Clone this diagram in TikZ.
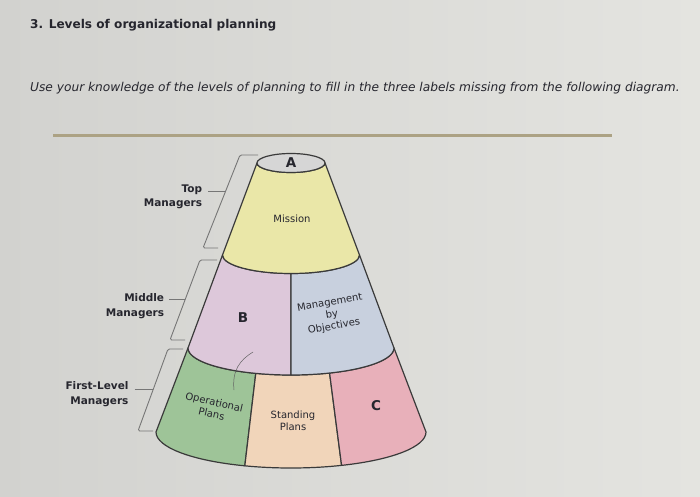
\documentclass[tikz,border=0pt]{standalone}
\usepackage{fontspec}
\setmainfont{DejaVu Sans}
\definecolor{bgleft}{RGB}{210, 210, 207}
\definecolor{bgright}{RGB}{228, 228, 224}
\definecolor{rulebar}{RGB}{172, 162, 132}
\definecolor{inkdark}{RGB}{38, 38, 46}
\definecolor{edgegray}{RGB}{58, 58, 58}
\definecolor{brkgray}{RGB}{118, 118, 118}
\definecolor{topgray}{RGB}{214, 214, 214}
\definecolor{missionyellow}{RGB}{234, 231, 168}
\definecolor{midlilac}{RGB}{221, 200, 218}
\definecolor{midblue}{RGB}{200, 208, 222}
\definecolor{lowgreen}{RGB}{158, 196, 152}
\definecolor{lowpeach}{RGB}{241, 213, 186}
\definecolor{lowpink}{RGB}{232, 176, 186}
\usetikzlibrary{calc, positioning}

\begin{document}
\begin{tikzpicture}[x=1pt, y=1pt,
  part/.style={draw=edgegray, line width=1.2pt, line join=round},
  brk/.style={draw=brkgray, line width=0.9pt, rounded corners=1.5pt},
  lvl/.style={font=\fontsize{10.5}{14.5}\selectfont\bfseries, text=inkdark, align=right, inner sep=1pt},
  ctxt/.style={font=\fontsize{10}{12}\selectfont, text=inkdark, align=center, inner sep=0pt},
  letter/.style={font=\fontsize{13.5}{14}\selectfont\bfseries, text=inkdark, inner sep=0pt}]
  \useasboundingbox (0,0) rectangle (700,496);
  \shade[left color=bgleft, right color=bgright] (0,0) rectangle (700,496);

  % Heading
  \node[anchor=west, font=\fontsize{12.1}{14}\selectfont\bfseries, text=inkdark, inner sep=0pt] (title) at (30,471) {3. Levels of organizational planning};
  \node[anchor=west, font=\fontsize{12.2}{14}\selectfont\itshape, text=inkdark, inner sep=0pt] (task) at (30,408) {Use your knowledge of the levels of planning to fill in the three labels missing from the following diagram.};
  \fill[rulebar] (53,358.5) rectangle (612,362);

  % Ellipse centres of the cone
  \coordinate (c0) at (291,333);
  \coordinate (c1) at (291,241);
  \coordinate (c2) at (291,148);
  \coordinate (c3) at (291,64);

  % First-level band
  \filldraw[part, fill=lowgreen] ($(c2)+(180:103 and 27)$) -- ($(c3)+(180:135 and 36)$)
    arc[start angle=180, end angle=250, x radius=135, y radius=36]
    -- ($(c2)+(250:103 and 27)$) arc[start angle=250, end angle=180, x radius=103, y radius=27] -- cycle;
  \filldraw[part, fill=lowpeach] ($(c2)+(250:103 and 27)$) -- ($(c3)+(250:135 and 36)$)
    arc[start angle=250, end angle=292, x radius=135, y radius=36]
    -- ($(c2)+(292:103 and 27)$) arc[start angle=292, end angle=250, x radius=103, y radius=27] -- cycle;
  \filldraw[part, fill=lowpink] ($(c2)+(292:103 and 27)$) -- ($(c3)+(292:135 and 36)$)
    arc[start angle=292, end angle=360, x radius=135, y radius=36]
    -- ($(c2)+(0:103 and 27)$) arc[start angle=360, end angle=292, x radius=103, y radius=27] -- cycle;

  % Middle band
  \filldraw[part, fill=midlilac] ($(c1)+(180:68.5 and 18.5)$) -- ($(c2)+(180:103 and 27)$)
    arc[start angle=180, end angle=270, x radius=103, y radius=27]
    -- ($(c1)+(270:68.5 and 18.5)$) arc[start angle=270, end angle=180, x radius=68.5, y radius=18.5] -- cycle;
  \filldraw[part, fill=midblue] ($(c1)+(270:68.5 and 18.5)$) -- ($(c2)+(270:103 and 27)$)
    arc[start angle=270, end angle=360, x radius=103, y radius=27]
    -- ($(c1)+(0:68.5 and 18.5)$) arc[start angle=360, end angle=270, x radius=68.5, y radius=18.5] -- cycle;

  % Top band
  \filldraw[part, fill=missionyellow] ($(c0)+(180:34 and 9.5)$) -- ($(c1)+(180:68.5 and 18.5)$)
    arc[start angle=180, end angle=360, x radius=68.5, y radius=18.5]
    -- ($(c0)+(0:34 and 9.5)$) arc[start angle=0, end angle=-180, x radius=34, y radius=9.5] -- cycle;
  \filldraw[part, fill=topgray] (c0) ellipse[x radius=34, y radius=9.5];

  % pen mark
  \draw[edgegray!80, line width=0.5pt] (253,144) .. controls (240,136) and (232,126) .. (234,106);

  % Cone texts
  \node[letter] (A) at (291,333) {A};
  \node[ctxt] (mission) at (292,277) {Mission};
  \node[letter] (B) at (243,178) {B};
  \node[ctxt, rotate=10] (mbo) at (332,181) {Management\\by\\Objectives};
  \node[ctxt, rotate=-13] (oper) at (213,88) {Operational\\Plans};
  \node[ctxt] (stand) at (293,75) {Standing\\Plans};
  \node[letter] (C) at (376,90) {C};

  % Level brackets
  \coordinate (bt1) at (258,341); \coordinate (bt2) at (240,341);
  \coordinate (bt3) at (203,248); \coordinate (bt4) at (218,248);
  \coordinate (bm1) at (217,236); \coordinate (bm2) at (200,236);
  \coordinate (bm3) at (170,156); \coordinate (bm4) at (185,156);
  \coordinate (bf1) at (183,147); \coordinate (bf2) at (168,147);
  \coordinate (bf3) at (138,65);  \coordinate (bf4) at (153,65);
  \draw[brk] (bt1) -- (bt2) -- (bt3) -- (bt4);
  \draw[brk] (bm1) -- (bm2) -- (bm3) -- (bm4);
  \draw[brk] (bf1) -- (bf2) -- (bf3) -- (bf4);
  \coordinate (tickT) at ($(bt2)!0.39!(bt3)$);
  \coordinate (tickM) at ($(bm2)!0.49!(bm3)$);
  \coordinate (tickF) at ($(bf2)!0.49!(bf3)$);

  \node[lvl] (top) at (173,299) {Top\\Managers};
  \node[lvl] (middle) at (135,190) {Middle\\Managers};
  \node[lvl] (first) at (97,102) {First-Level\\Managers};
  \draw[brk] ([xshift=5pt]top.east |- tickT) -- (tickT);
  \draw[brk] ([xshift=4pt]middle.east |- tickM) -- (tickM);
  \draw[brk] ([xshift=5pt]first.east |- tickF) -- (tickF);
\end{tikzpicture}
\end{document}
